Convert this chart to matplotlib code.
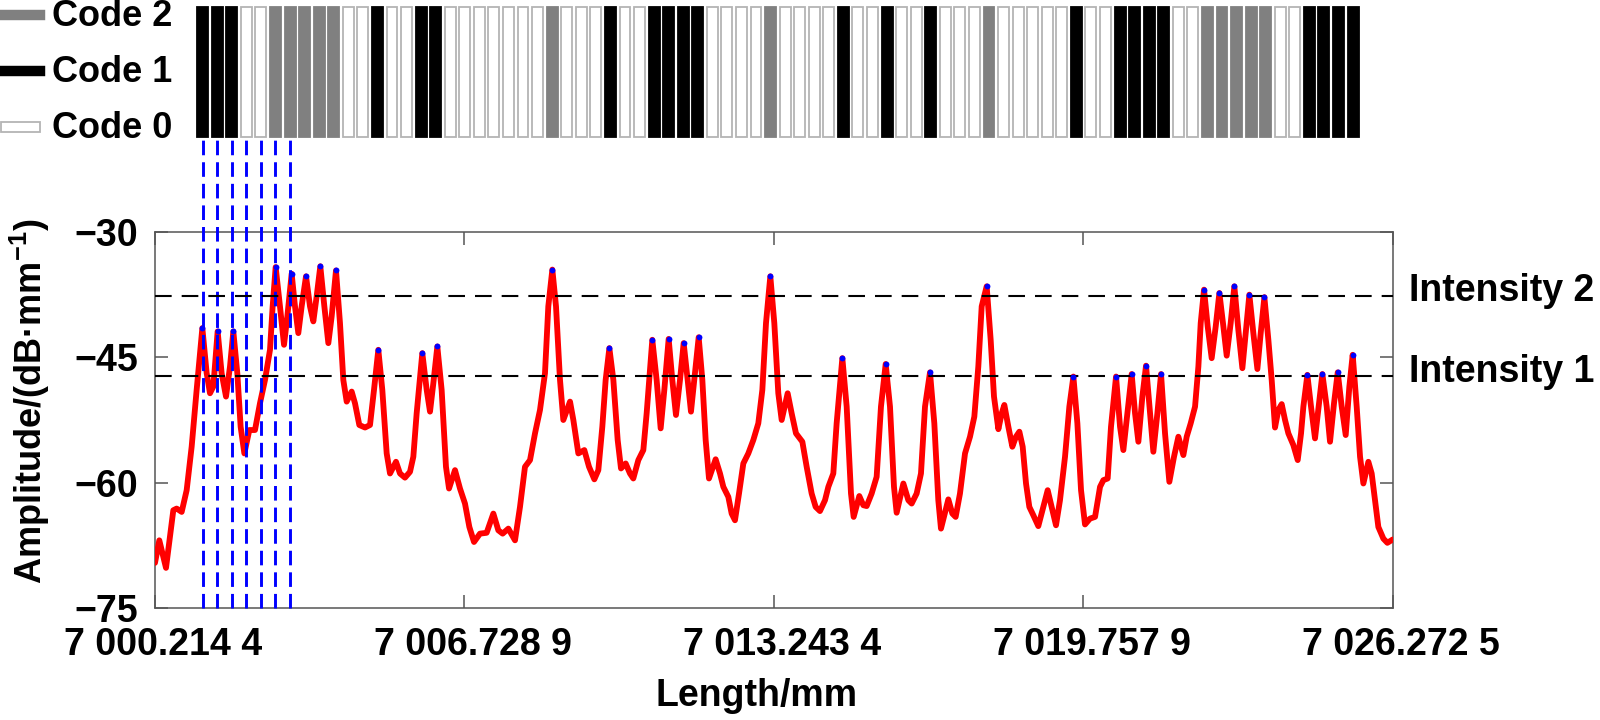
import numpy as np
import matplotlib.pyplot as plt
from matplotlib.patches import Rectangle
from matplotlib.lines import Line2D
from matplotlib.transforms import ScaledTranslation

plt.rcParams['font.family'] = ['Liberation Sans', 'DejaVu Sans']
plt.rcParams['font.weight'] = 'bold'
plt.rcParams['mathtext.default'] = 'regular'

# ---------------- data ----------------
length_base = 7000.0  # mm
# length offset (mm) from 7000 and amplitude (dB/mm) of the red trace
length_offset = [
    0.214, 0.305, 0.446, 0.600, 0.670, 0.776, 0.881, 0.986, 1.091, 1.211,
    1.302, 1.372, 1.442, 1.533, 1.617, 1.709, 1.793, 1.863, 1.947, 2.017,
    2.095, 2.200, 2.319, 2.424, 2.530, 2.635, 2.691, 2.754, 2.845, 2.930,
    3.000, 3.091, 3.161, 3.231, 3.301, 3.393, 3.477, 3.547, 3.617, 3.694,
    3.779, 3.863, 3.933, 4.024, 4.108, 4.178, 4.249, 4.354, 4.424, 4.515,
    4.635, 4.740, 4.824, 4.915, 4.999, 5.091, 5.161, 5.287, 5.371, 5.476,
    5.582, 5.652, 5.722, 5.841, 5.933, 6.003, 6.073, 6.157, 6.248, 6.339,
    6.403, 6.529, 6.634, 6.739, 6.831, 6.929, 7.055, 7.195, 7.336, 7.441,
    7.532, 7.652, 7.792, 7.897, 8.002, 8.108, 8.213, 8.318, 8.423, 8.493,
    8.578, 8.655, 8.739, 8.809,
    8.950, 9.020, 9.125, 9.251, 9.350, 9.462, 9.546, 9.630, 9.700, 9.778,
    9.862, 9.953, 10.023, 10.121, 10.212, 10.282, 10.388, 10.493, 10.563, 10.682,
    10.773, 10.858, 10.935, 11.026, 11.103, 11.180, 11.265, 11.342, 11.426, 11.496,
    11.580, 11.658, 11.735, 11.805, 11.875, 12.015, 12.107, 12.177, 12.282, 12.352,
    12.422, 12.507, 12.598, 12.703, 12.808, 12.913, 12.998, 13.075, 13.166, 13.250,
    13.334, 13.405, 13.531, 13.615, 13.706, 13.840, 13.931, 14.036, 14.120, 14.211,
    14.317, 14.387, 14.492, 14.562, 14.682, 14.773, 14.864, 14.920, 15.039, 15.124,
    15.194, 15.299, 15.404, 15.495, 15.594, 15.685, 15.769, 15.825, 15.966, 16.071,
    16.141, 16.246, 16.337, 16.422, 16.527, 16.618, 16.702, 16.758, 16.913, 16.997,
    17.067, 17.158, 17.264, 17.369, 17.460, 17.544, 17.615,
    17.720, 17.804, 17.874, 17.966, 18.036, 18.092, 18.176, 18.260, 18.337, 18.408,
    18.478, 18.548, 18.618, 18.702, 18.807, 18.913, 19.004, 19.088, 19.179, 19.263,
    19.369, 19.460, 19.545, 19.629, 19.706, 19.790, 19.895, 20.001, 20.106, 20.176,
    20.267, 20.337, 20.443, 20.527, 20.597, 20.681, 20.772, 20.843, 20.913, 20.997,
    21.074, 21.158, 21.228, 21.313, 21.390, 21.474, 21.565, 21.663, 21.755, 21.860,
    21.930, 22.014, 22.106, 22.176, 22.225, 22.295, 22.372, 22.456, 22.541, 22.618,
    22.702, 22.772, 22.856, 22.933, 23.017, 23.102, 23.179, 23.249, 23.333, 23.418,
    23.488, 23.565, 23.649, 23.719, 23.789, 23.859, 23.930, 24.000, 24.070, 24.175,
    24.267, 24.337, 24.386, 24.470, 24.547, 24.631, 24.716, 24.786, 24.877, 24.947,
    25.031, 25.109, 25.193, 25.277, 25.354, 25.424, 25.508, 25.579, 25.649, 25.754,
    25.824, 25.894, 25.964, 26.070, 26.154, 26.266]
amplitude = [
    -69.6, -66.9, -70.2, -63.3, -63.1, -63.5, -60.9, -55.7, -48.9, -41.5,
    -46.9, -49.3, -48.5, -41.9, -46.9, -49.7, -46.1, -41.9, -46.9, -53.3,
    -56.5, -53.7, -53.7, -50.5, -47.7, -44.1, -38.9, -34.2, -38.9, -43.5,
    -40.1, -35.0, -38.9, -42.1, -38.9, -35.3, -38.9, -40.7, -37.7, -34.1,
    -38.9, -43.3, -40.1, -34.6, -40.9, -47.7, -50.3, -49.1, -50.5, -53.1,
    -53.4, -53.1, -48.9, -44.1, -48.9, -56.5, -58.9, -57.5, -58.9, -59.4,
    -58.7, -56.9, -51.7, -44.5, -48.9, -51.5, -48.1, -43.7, -48.9, -58.1,
    -60.7, -58.5, -60.7, -62.5, -65.3, -67.1, -66.1, -66.0, -63.7, -65.7,
    -66.1, -65.5, -66.9, -62.9, -58.1, -57.3, -54.1, -51.3, -46.9, -38.9,
    -34.5, -38.9, -47.7, -52.5,
    -50.3, -52.5, -56.5, -56.1, -58.1, -59.6, -58.5, -53.3, -47.7, -43.9,
    -47.7, -54.9, -58.3, -57.7, -58.9, -59.5, -57.3, -56.1, -51.7, -42.9,
    -47.7, -53.5, -48.9, -42.8, -47.7, -51.9, -47.7, -43.3, -47.7, -51.5,
    -46.9, -42.6, -47.7, -54.9, -59.5, -57.2, -58.9, -60.5, -61.7, -63.7,
    -64.5, -61.3, -57.7, -56.5, -54.9, -52.9, -48.9, -40.9, -35.3, -40.9,
    -49.3, -52.5, -49.3, -51.7, -54.1, -55.1, -58.1, -61.3, -62.9, -63.4,
    -62.1, -60.5, -58.9, -52.9, -45.1, -50.9, -61.3, -64.1, -61.6, -62.7,
    -62.8, -61.3, -59.3, -50.9, -45.8, -50.9, -60.5, -63.6, -60.1, -62.1,
    -62.5, -61.3, -58.9, -50.9, -46.8, -52.9, -62.1, -65.5, -62.0, -63.7,
    -64.1, -61.3, -56.5, -54.5, -52.1, -46.1, -38.9,
    -36.5, -42.9, -49.7, -53.6, -51.7, -50.7, -53.3, -55.7, -54.5, -53.9,
    -55.7, -60.1, -62.9, -63.9, -65.2, -62.9, -60.9, -62.9, -65.1, -62.1,
    -56.9, -50.9, -47.3, -52.9, -60.9, -65.0, -64.3, -64.1, -60.5, -59.7,
    -59.5, -53.3, -47.3, -53.3, -56.1, -51.7, -47.0, -51.7, -55.1, -49.7,
    -46.0, -51.7, -56.3, -51.7, -47.0, -54.1, -59.9, -56.9, -54.5, -56.7,
    -54.5, -52.9, -50.9, -46.1, -40.9, -36.9, -41.3, -45.1, -41.3, -37.3,
    -41.3, -44.8, -40.9, -36.5, -41.7, -46.3, -41.7, -37.5, -42.1, -46.4,
    -42.1, -37.8, -42.9, -47.7, -53.4, -51.3, -50.6, -52.5, -54.1, -55.5,
    -57.3, -54.1, -50.9, -47.1, -50.9, -54.7, -50.5, -47.0, -50.9, -55.1,
    -50.5, -46.8, -50.9, -54.3, -48.5, -44.7, -50.9, -56.9, -60.1, -57.5,
    -58.9, -62.1, -65.3, -66.7, -67.2, -66.8]

# code sequence shown in the strip (0, 1, 2), first code centre and spacing in mm
codes = [1, 1, 1, 0, 0, 2, 2, 2, 2, 2, 0, 0, 1, 0, 0, 1, 1, 0, 0, 0,
         0, 0, 0, 0, 2, 0, 0, 0, 1, 0, 0, 1, 1, 1, 1, 0, 0, 0, 0, 2,
         0, 0, 0, 0, 1, 0, 0, 1, 0, 0, 1, 0, 0, 0, 2, 0, 0, 0, 0, 0,
         1, 0, 0, 1, 1, 1, 1, 0, 0, 2, 2, 2, 2, 2, 0, 0, 1, 1, 1, 1]
code_start = 7001.218
code_pitch = 0.3065
n_marked = 7  # codes traced down with the blue dashed lines

intensity_levels = [-37.6, -47.2]
intensity_names = ['Intensity 2', 'Intensity 1']
peak_floor = -48.5  # local maxima above this get a blue dot

x_ticks = [7000.2144, 7006.7289, 7013.2434, 7019.7579, 7026.2725]
x_tick_labels = ['7 000.214 4', '7 006.728 9', '7 013.243 4', '7 019.757 9', '7 026.272 5']
y_ticks = [-30, -45, -60, -75]

# ---------------- figure ----------------
W, H = 1600, 720
fig = plt.figure(figsize=(W / 100, H / 100), dpi=100)

def fig_box(x0, y0, x1, y1):
    # pixel box (top-left origin) -> figure fraction rect
    return [x0 / W, 1 - y1 / H, (x1 - x0) / W, (y1 - y0) / H]

ax = fig.add_axes(fig_box(155, 232, 1393, 608))
ax_code = fig.add_axes(fig_box(155, 7, 1393, 137))

length = length_base + np.array(length_offset)
amp = np.array(amplitude)

ax.plot(length, amp, color='#ff0000', lw=4.2, solid_joinstyle='round',
        solid_capstyle='round', zorder=3)

is_peak = (amp[1:-1] > amp[:-2]) & (amp[1:-1] >= amp[2:]) & (amp[1:-1] > peak_floor)
pk = np.where(is_peak)[0] + 1
ax.plot(length[pk], amp[pk], 'o', color='#0000ff', ms=4.2, mec='none', zorder=6)

for lev, name in zip(intensity_levels, intensity_names):
    ax.axhline(lev, color='black', lw=1.5, linestyle=(0, (8, 4.8)), zorder=5)
    ax.text(1.0129, lev + 0.5, name, transform=ax.get_yaxis_transform(),
            ha='left', va='center', fontsize=27, fontweight='bold')

ax.set_xlim(x_ticks[0], x_ticks[-1])
ax.set_ylim(-75, -30)
ax.set_xticks(x_ticks)
ax.set_xticklabels(x_tick_labels)
ax.set_yticks(y_ticks)
ax.tick_params(direction='in', top=True, right=True, length=9.5, width=1.1,
               color='#555555', labelsize=27)
ax.tick_params(axis='x', pad=14)
ax.tick_params(axis='y', pad=12)
for lab in ax.get_xticklabels():
    lab.set_transform(lab.get_transform() + ScaledTranslation(0.08, 0, fig.dpi_scale_trans))
for s in ax.spines.values():
    s.set_color('#555555')
    s.set_linewidth(1.1)

ax.set_xlabel('Length/mm', fontsize=27, fontweight='bold')
ax.xaxis.set_label_coords(0.486, -0.186)
ax.set_ylabel('Amplitude/(dB·mm$^{−1}$)', fontsize=26, fontweight='bold')
ax.yaxis.set_label_coords(-0.083, 0.55)

# code strip
code_x = code_start + code_pitch * np.arange(len(codes))
fills = {0: 'white', 1: 'black', 2: '#808080'}
edges = {0: '#b4b4b4', 1: 'black', 2: '#808080'}
ax_code.bar(code_x, 1, width=code_pitch * 0.75, bottom=0,
            color=[fills[c] for c in codes], edgecolor=[edges[c] for c in codes],
            linewidth=1.3, clip_on=False)
ax_code.set_xlim(x_ticks[0], x_ticks[-1])
ax_code.set_ylim(0, 1)
ax_code.axis('off')

# blue dashed guides from the strip down to the trace
top = (608 - 137) / (608 - 232)
ax.vlines(code_x[:n_marked], 0, top, transform=ax.get_xaxis_transform(),
          colors='#0000ff', lw=2.1, linestyle=(0, (5, 2.4)), clip_on=False, zorder=4)

# legend for the codes
leg_rows = [(14.5, 'Code 2', 2), (70.5, 'Code 1', 1), (127, 'Code 0', 0)]
for yp, name, c in leg_rows:
    if c == 0:
        fig.add_artist(Rectangle((1 / W, 1 - 132 / H), 39 / W, 10 / H,
                                 transform=fig.transFigure, facecolor='white',
                                 edgecolor='#b4b4b4', lw=1.3))
    else:
        fig.add_artist(Line2D([0, 40 / W], [1 - yp / H, 1 - yp / H],
                              transform=fig.transFigure, color=fills[c], lw=7.5))
    fig.text(52 / W, 1 - (yp + 1.5) / H, name, ha='left', va='center',
             fontsize=26, fontweight='bold')

fig.savefig('out.png', dpi=100)
